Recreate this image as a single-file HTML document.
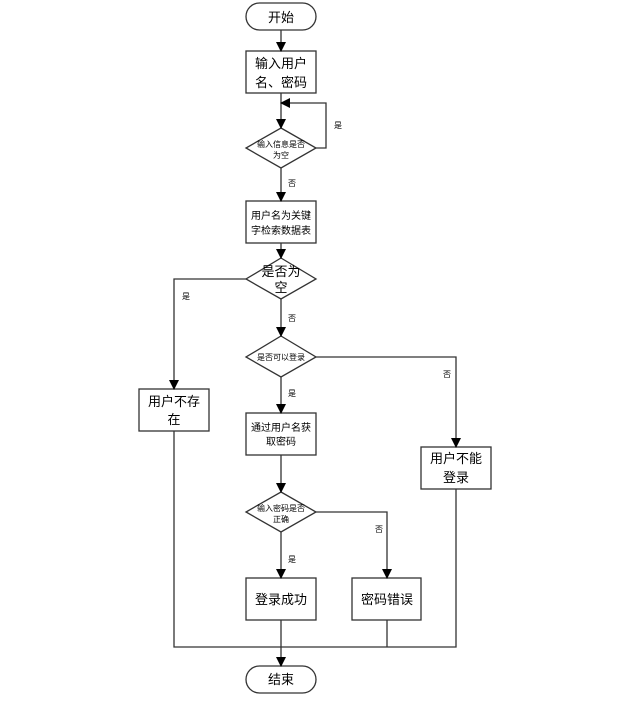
<!DOCTYPE html>
<html><head><meta charset="utf-8"><style>
html,body{margin:0;padding:0;background:#fff;}
svg text{font-family:"Liberation Sans","Noto Sans CJK SC",sans-serif;fill:#000;text-anchor:middle;}
</style></head><body>
<svg width="623" height="700" viewBox="0 0 623 700" xmlns="http://www.w3.org/2000/svg">
<defs><marker id="a" markerWidth="10" markerHeight="10" refX="9" refY="5" orient="auto" markerUnits="userSpaceOnUse"><path d="M0,0 L10,5 L0,10 z" fill="#000"/></marker></defs>
<g stroke="#333" stroke-width="1.3" fill="none">
<rect x="246" y="3" width="70" height="27" rx="13.5" fill="#fff"/>
<rect x="246" y="51" width="70" height="42" fill="#fff"/>
<polygon points="281,128 316,148 281,168 246,148" fill="#fff"/>
<rect x="246" y="201" width="70" height="42" fill="#fff"/>
<polygon points="281,258 316,279 281,299 246,279" fill="#fff"/>
<polygon points="281,336 316,357 281,377 246,357" fill="#fff"/>
<rect x="139" y="389" width="70" height="42" fill="#fff"/>
<rect x="246" y="413" width="70" height="42" fill="#fff"/>
<rect x="421" y="447" width="70" height="42" fill="#fff"/>
<polygon points="281,492 316,512 281,532 246,512" fill="#fff"/>
<rect x="246" y="578" width="70" height="42" fill="#fff"/>
<rect x="352" y="578" width="69" height="42" fill="#fff"/>
<rect x="246" y="666" width="70" height="27" rx="13.5" fill="#fff"/>
<line x1="281" y1="30" x2="281" y2="51" marker-end="url(#a)"/>
<line x1="281" y1="93" x2="281" y2="128" marker-end="url(#a)"/>
<polyline points="316,148 326,148 326,103 281,103" marker-end="url(#a)"/>
<line x1="281" y1="168" x2="281" y2="201" marker-end="url(#a)"/>
<line x1="281" y1="243" x2="281" y2="258" marker-end="url(#a)"/>
<polyline points="246,279 174,279 174,389" marker-end="url(#a)"/>
<line x1="281" y1="299" x2="281" y2="336" marker-end="url(#a)"/>
<polyline points="316,357 456,357 456,447" marker-end="url(#a)"/>
<line x1="281" y1="377" x2="281" y2="413" marker-end="url(#a)"/>
<line x1="281" y1="455" x2="281" y2="492" marker-end="url(#a)"/>
<polyline points="316,512 387,512 387,578" marker-end="url(#a)"/>
<line x1="281" y1="532" x2="281" y2="578" marker-end="url(#a)"/>
<polyline points="174,431 174,647 456,647 456,489"/>
<line x1="387" y1="620" x2="387" y2="647"/>
<line x1="281" y1="620" x2="281" y2="666" marker-end="url(#a)"/>
</g>
<text x="281" y="22" font-size="13">开始</text>
<text x="281" y="68" font-size="13">输入用户</text>
<text x="281" y="87" font-size="13">名、密码</text>
<text x="281" y="147" font-size="8">输入信息是否</text>
<text x="281" y="158" font-size="8">为空</text>
<text x="281" y="219" font-size="10">用户名为关键</text>
<text x="281" y="234" font-size="10">字检索数据表</text>
<text x="281" y="276" font-size="13">是否为</text>
<text x="281" y="292" font-size="13">空</text>
<text x="281" y="360" font-size="8">是否可以登录</text>
<text x="174" y="406" font-size="13">用户不存</text>
<text x="174" y="424" font-size="13">在</text>
<text x="281" y="431" font-size="10">通过用户名获</text>
<text x="281" y="445" font-size="10">取密码</text>
<text x="456" y="463" font-size="13">用户不能</text>
<text x="456" y="482" font-size="13">登录</text>
<text x="281" y="511" font-size="8">输入密码是否</text>
<text x="281" y="522" font-size="8">正确</text>
<text x="281" y="604" font-size="13">登录成功</text>
<text x="387" y="604" font-size="13">密码错误</text>
<text x="281" y="684" font-size="13">结束</text>
<g font-size="8">
<text x="338" y="128">是</text>
<text x="292" y="186">否</text>
<text x="186" y="299">是</text>
<text x="292" y="321">否</text>
<text x="447" y="377">否</text>
<text x="292" y="396">是</text>
<text x="379" y="532">否</text>
<text x="292" y="562">是</text>
</g>
</svg>
</body></html>
